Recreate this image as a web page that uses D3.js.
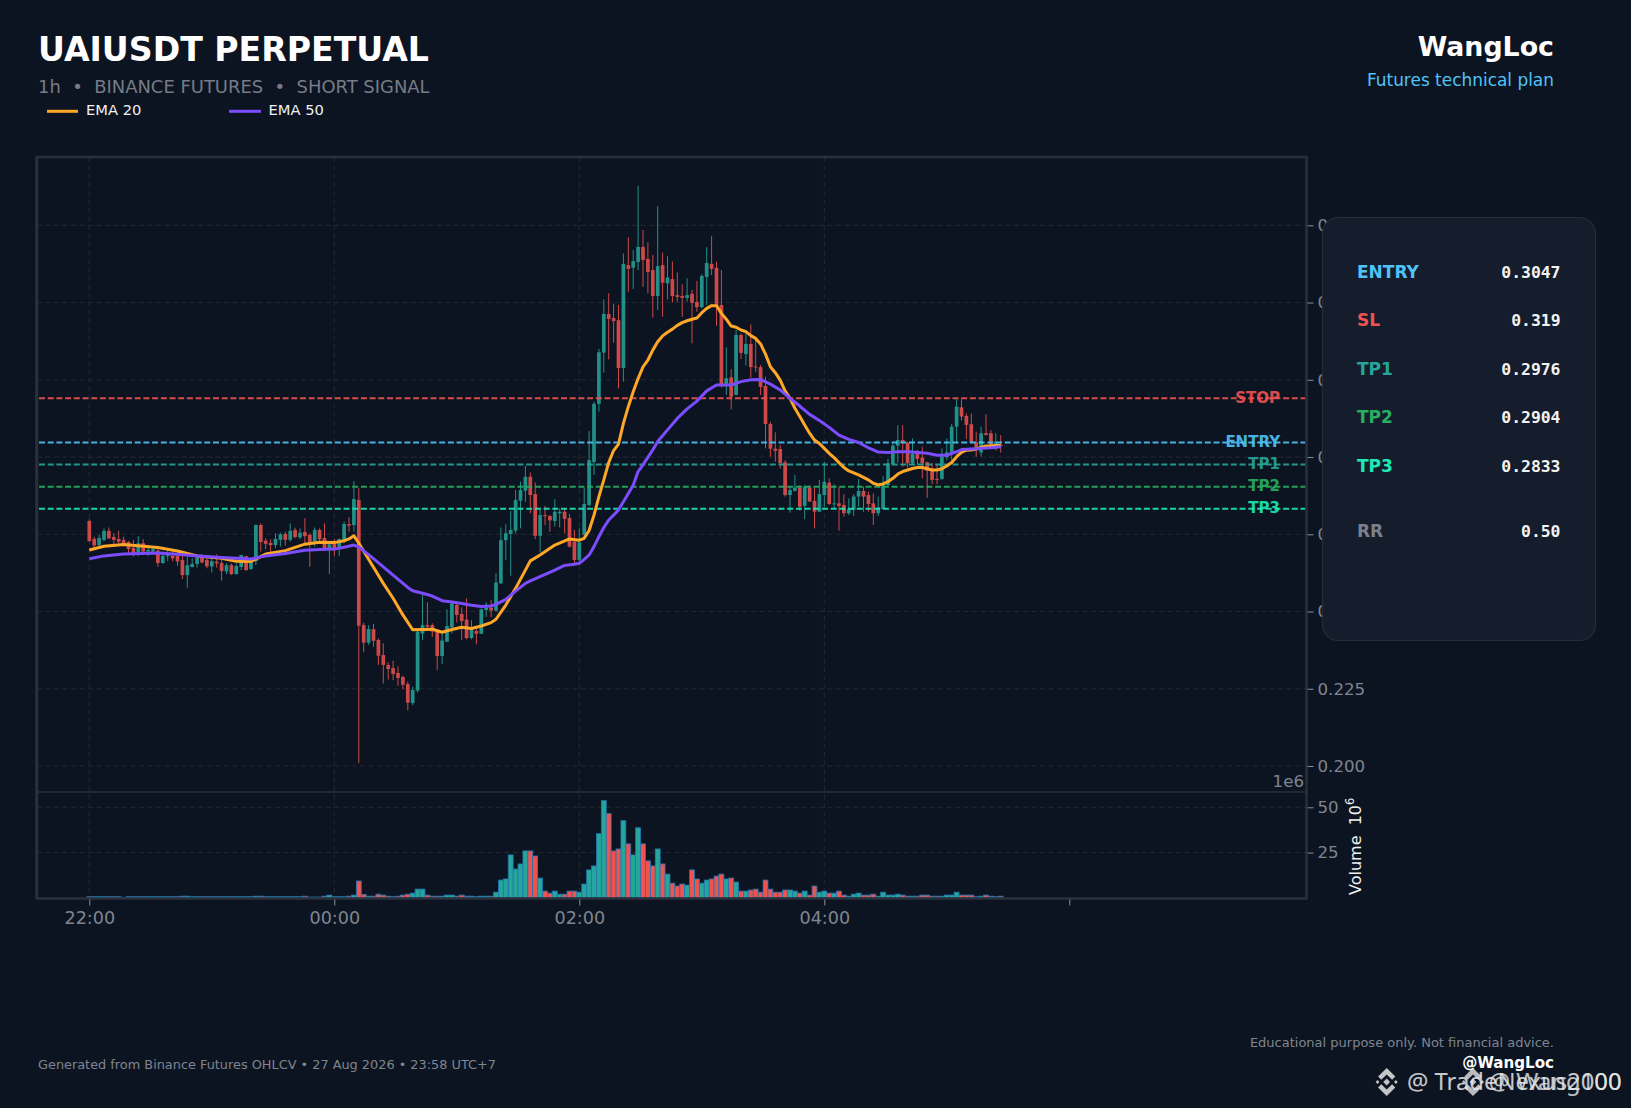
<!DOCTYPE html>
<html>
<head>
<meta charset="utf-8">
<script src="https://cdn.jsdelivr.net/npm/d3@7/dist/d3.min.js"></script>
<style>
html,body{margin:0;padding:0;background:#0d1421;}
svg{display:block;font-family:"DejaVu Sans",sans-serif;}
text{white-space:pre;}
</style>
</head>
<body>
<svg id="c" width="1631" height="1108"></svg>
<script>
const opens=[.2793,.2735,.2715,.2732,.2761,.2741,.2735,.2732,.2725,.2706,
.2683,.2721,.2694,.2694,.2697,.2657,.2679,.2680,.2680,.2667,
.2618,.2644,.2654,.2675,.2667,.2646,.2661,.2657,.2630,.2650,
.2621,.2644,.2679,.2638,.2663,.2780,.2729,.2722,.2715,.2732,
.2751,.2732,.2764,.2740,.2757,.2748,.2726,.2764,.2738,.2705,
.2718,.2705,.2732,.2783,.2780,.2861,.2456,.2399,.2443,.2408,
.2359,.2327,.2317,.2301,.2288,.2265,.2204,.2244,.2429,.2456,
.2456,.2435,.2356,.2402,.2449,.2521,.2492,.2474,.2414,.2437,
.2428,.2505,.2512,.2503,.2591,.2731,.2751,.2762,.2859,.2891,
.2936,.2880,.2745,.2812,.2809,.2793,.2818,.2823,.2803,.2726,
.2667,.2748,.2845,.2984,.3172,.3338,.3463,.3450,.3443,.3288,
.3621,.3613,.3631,.3680,.3641,.3605,.3521,.3621,.3562,.3576,
.3524,.3521,.3515,.3528,.3502,.3485,.3583,.3625,.3612,.3492,
.3230,.3258,.3201,.3395,.3333,.3366,.3293,.3291,.3230,.3107,
.3027,.3026,.2983,.2877,.2891,.2901,.2842,.2902,.2858,.2823,
.2877,.2917,.2848,.2850,.2845,.2818,.2829,.2872,.2890,.2877,
.2850,.2818,.2832,.2909,.2977,.3037,.3055,.3046,.2980,.3012,
.2998,.2983,.2955,.2929,.2929,.2999,.3015,.3098,.3161,.3133,
.3106,.3047,.3015,.3077,.3077,.3036,.3039];
const highs=[.2798,.2742,.2748,.2769,.2772,.2753,.2761,.2742,.2728,.2732,
.2744,.2734,.2710,.2712,.2705,.2694,.2699,.2694,.2694,.2683,
.2678,.2672,.2686,.2686,.2675,.2672,.2685,.2667,.2656,.2656,
.2656,.2683,.2680,.2672,.2782,.2785,.2737,.2734,.2753,.2755,
.2758,.2785,.2771,.2769,.2802,.2753,.2772,.2769,.2785,.2721,
.2735,.2737,.2791,.2805,.2922,.2899,.2464,.2456,.2460,.2413,
.2397,.2335,.2341,.2322,.2292,.2273,.2257,.2440,.2553,.2530,
.2462,.2442,.2429,.2507,.2530,.2530,.2513,.2543,.2472,.2445,
.2510,.2530,.2537,.2624,.2772,.2783,.2825,.2893,.2920,.2971,
.2950,.2918,.2834,.2842,.2812,.2863,.2834,.2834,.2816,.2764,
.2769,.2901,.3084,.3179,.3350,.3510,.3530,.3497,.3492,.3659,
.3711,.3670,.3877,.3735,.3695,.3654,.3812,.3662,.3650,.3633,
.3598,.3559,.3578,.3541,.3570,.3592,.3679,.3715,.3632,.3605,
.3355,.3284,.3411,.3400,.3400,.3429,.3379,.3298,.3260,.3114,
.3080,.3039,.2990,.2904,.2942,.2909,.2909,.2909,.2899,.2926,
.2985,.2931,.2912,.2904,.2880,.2866,.2880,.2929,.2904,.2888,
.2882,.2872,.2938,.2994,.3044,.3103,.3103,.3050,.3060,.3023,
.3034,.2985,.2980,.2974,.3028,.3060,.3107,.3187,.3187,.3141,
.3141,.3082,.3098,.3138,.3087,.3077,.3071];
const lows=[.2726,.2705,.2710,.2726,.2734,.2719,.2721,.2715,.2688,.2678,
.2680,.2683,.2680,.2688,.2645,.2654,.2663,.2663,.2648,.2605,
.2577,.2643,.2642,.2656,.2640,.2626,.2642,.2600,.2621,.2618,
.2620,.2634,.2632,.2634,.2650,.2694,.2702,.2690,.2705,.2710,
.2713,.2726,.2737,.2734,.2721,.2645,.2710,.2726,.2699,.2621,
.2680,.2680,.2721,.2758,.2758,.2009,.2368,.2392,.2386,.2327,
.2267,.2280,.2278,.2260,.2248,.2180,.2197,.2238,.2408,.2445,
.2418,.2311,.2330,.2402,.2429,.2464,.2408,.2410,.2410,.2394,
.2427,.2483,.2481,.2499,.2590,.2667,.2616,.2753,.2769,.2855,
.2818,.2734,.2692,.2780,.2758,.2775,.2772,.2753,.2707,.2656,
.2661,.2740,.2840,.2942,.3147,.3273,.3316,.3370,.3222,.3244,
.3535,.3544,.3605,.3551,.3530,.3451,.3476,.3454,.3510,.3500,
.3503,.3454,.3503,.3368,.3470,.3481,.3492,.3589,.3425,.3225,
.3201,.3154,.3200,.3317,.3296,.3257,.3276,.3201,.3028,.3001,
.2985,.2963,.2872,.2820,.2888,.2826,.2799,.2856,.2769,.2823,
.2839,.2845,.2834,.2762,.2807,.2812,.2809,.2839,.2823,.2823,
.2780,.2809,.2832,.2906,.2974,.2982,.2969,.2966,.2974,.2974,
.2931,.2868,.2912,.2912,.2926,.2990,.2980,.3046,.3118,.3058,
.3044,.3001,.3001,.3071,.3034,.3021,.3014];
const closes=[.2728,.2714,.2738,.2761,.2737,.2732,.2726,.2721,.2702,.2683,
.2721,.2694,.2699,.2702,.2657,.2680,.2683,.2672,.2662,.2618,
.2650,.2654,.2675,.2659,.2646,.2663,.2656,.2631,.2650,.2621,
.2647,.2683,.2634,.2661,.2780,.2725,.2719,.2715,.2735,.2750,
.2732,.2761,.2741,.2755,.2744,.2721,.2764,.2734,.2705,.2718,
.2705,.2734,.2783,.2778,.2864,.2454,.2399,.2443,.2405,.2357,
.2327,.2314,.2298,.2285,.2263,.2205,.2246,.2435,.2456,.2451,
.2435,.2356,.2406,.2453,.2526,.2489,.2469,.2414,.2442,.2428,
.2507,.2512,.2503,.2594,.2731,.2753,.2764,.2861,.2893,.2936,
.2877,.2745,.2812,.2811,.2795,.2823,.2823,.2800,.2710,.2667,
.2724,.2848,.2990,.3172,.3339,.3463,.3447,.3440,.3288,.3625,
.3609,.3634,.3680,.3638,.3599,.3521,.3618,.3564,.3581,.3521,
.3518,.3515,.3524,.3499,.3485,.3586,.3628,.3609,.3492,.3233,
.3255,.3195,.3395,.3337,.3366,.3291,.3290,.3227,.3107,.3027,
.3020,.2980,.2877,.2893,.2901,.2839,.2904,.2856,.2823,.2880,
.2920,.2848,.2850,.2842,.2818,.2831,.2872,.2890,.2872,.2848,
.2818,.2837,.2909,.2980,.3037,.3055,.3046,.2980,.3010,.2994,
.2980,.2955,.2926,.2926,.3001,.3015,.3098,.3163,.3131,.3104,
.3047,.3026,.3077,.3071,.3036,.3050,.3036];
const volumes=[.6,.6,.6,.6,.6,.6,.6,.1,.6,.6,
.6,.6,.6,.6,.6,.6,.6,.6,.6,.9,
.9,.6,.6,.6,.6,.6,.6,.6,.6,.6,
.6,.6,.6,.6,.9,.9,.6,.6,.6,.6,
.6,.6,.6,.6,.9,.4,.4,.4,.9,1.5,
.6,.6,.6,.9,1.5,9.3,1.9,.9,.9,2,
1.5,.9,.6,.9,1.5,2,2.6,4.8,4.8,1.5,
.9,.9,.9,1.5,1.5,.9,1.5,.9,.9,.6,
.9,.9,.9,3.1,9.8,10.4,23.7,15.9,18.7,25.9,
25.9,23.1,10.9,3.7,2.6,3.7,2,2,3.7,3.7,
3.1,7.6,15.4,17.6,35.4,53.7,46.5,25.9,27,42.6,
29.8,23.7,38.7,29.8,20.4,17.6,27,18.7,13.1,8.1,
6.5,7.6,7,15.4,10.4,8.1,9.8,10.4,12,13.1,
10.4,10.9,8.7,3.7,3.7,4.3,4.8,3.1,9.8,4.8,
3.1,3.1,4.3,4.3,3.7,2.6,3.7,1.5,6.5,3.1,
3.7,2.6,2.6,3.7,1.5,.9,2,2.6,1.5,1.5,
2,.9,3.1,1.5,1.5,2,1.5,.9,.9,.9,
1.5,1.5,.9,.9,.9,1.5,1.5,3.1,1.5,1.5,
1.5,.6,.9,1.5,.9,.6,.9];
const ema20Bars=[0,3,7,14,18,22,27,30,33,36,40,44,47,50,52,53,54,55,58,60,62,64,66,68,70,72,74,76,78,80,82,83,85,87,89,90,92,95,98,100,101,102,103,104,105,106,107,108,109,110,111,112,113,114,115,116,117,118,119,120,121,122,123,124,125,126,127,128,129,130,131,132,133,134,135,136,137,138,139,140,141,142,143,144,145,146,147,148,149,150,151,152,153,154,155,156,157,158,159,160,161,162,163,164,165,166,167,168,169,170,171,172,173,174,175,176,177,178,179,180,181,182,183,184,185,186];
const ema20Vals=[.2699,.2711,.2717,.2707,.2696,.2680,.2672,.2663,.2662,.2686,.2697,.2718,.2724,.2723,.2729,.2735,.2745,.2721,.2643,.2591,.2543,.2489,.2441,.2442,.2443,.2433,.2442,.2449,.2445,.2453,.2464,.2475,.2521,.2575,.2634,.2664,.2683,.2715,.2735,.2731,.2737,.2762,.2812,.2872,.2926,.2982,.3021,.3042,.3109,.3163,.3211,.3254,.3292,.3314,.3346,.3373,.3392,.3404,.3414,.3426,.3435,.3441,.3446,.3450,.3467,.3481,.3490,.3490,.3465,.3446,.3424,.3420,.3411,.3406,.3393,.3384,.3366,.3333,.3292,.3273,.3249,.3214,.3190,.3158,.3131,.3104,.3077,.3055,.3044,.3028,.3012,.2998,.2982,.2966,.2955,.2949,.2942,.2934,.2926,.2915,.2910,.2913,.2920,.2931,.2945,.2953,.2958,.2963,.2966,.2966,.2962,.2958,.2958,.2962,.2971,.2982,.3001,.3015,.3022,.3023,.3026,.3031,.3036,.3036,.3037,.3038];
const ema50Bars=[0,3,7,14,18,22,27,33,36,40,44,47,50,52,54,55,58,62,65,66,68,70,72,74,76,78,80,82,83,85,87,89,90,92,95,97,99,100,101,102,103,104,105,106,107,108,109,110,111,112,113,115,116,118,120,122,124,126,128,129,131,133,135,137,139,141,143,145,147,149,151,153,155,157,159,160,161,163,165,167,169,171,173,175,176,177,178,180,182,184,186];
const ema50Vals=[.2671,.2680,.2686,.2689,.2685,.2680,.2675,.2670,.2680,.2688,.2698,.2701,.2702,.2708,.2715,.2709,.2671,.2618,.2578,.2567,.2559,.2550,.2535,.2531,.2526,.2520,.2516,.2518,.2523,.2539,.2566,.2591,.2599,.2613,.2634,.2649,.2653,.2656,.2669,.2683,.2710,.2742,.2772,.2796,.2812,.2829,.2855,.2882,.2909,.2953,.2975,.3023,.3050,.3088,.3125,.3156,.3181,.3214,.3233,.3233,.3233,.3244,.3250,.3251,.3236,.3217,.3190,.3165,.3138,.3118,.3096,.3071,.3057,.3047,.3030,.3023,.3016,.3015,.3017,.3017,.3015,.3012,.3006,.3006,.3012,.3017,.3024,.3026,.3028,.3030,.3033];

const levelNames=["STOP","ENTRY","TP1","TP2","TP3"];
const levelValues=[.319,.3047,.2976,.2904,.2833];
const levelColors=["#ef5350","#4fc3f7","#26a69a","#27ae60","#1de9b6"];
const priceTicks=[.2,.225,.25,.275,.3,.325,.35,.375];
const volumeTicks=[25,50];
const timeTicks=[0,50,100,150,200];
const timeLabels=["22:00","00:00","02:00","04:00",""];
const cardLabels=["ENTRY","SL","TP1","TP2","TP3","RR"];
const cardValues=["0.3047","0.319","0.2976","0.2904","0.2833","0.50"];
const cardColors=["#4fc3f7","#ef5350","#26a69a","#27ae60","#1de9b6","#7a808c"];
const cardBaselines=[277.8,326,374.7,423.3,471.7,536.7];

const BG="#0d1421",FRAME="#2a303b",GRID="#222833",GRAY="#7f8590",UP="#26a69a",DOWN="#ef5350";
const svg=d3.select("#c");
svg.append("rect").attr("width",1631).attr("height",1108).attr("fill",BG);

const L=37,R=1306.5,T=157,PB=792,B=898.5;
const x=d3.scaleLinear().domain([0,50]).range([89.3,334.3]);
const y=d3.scaleLinear().domain([.2,.375]).range([766,225.3]);
const v=d3.scaleLinear().domain([0,50]).range([897.8,807.3]);

// grid
const grid=svg.append("g").attr("stroke",GRID).attr("stroke-width",1).attr("stroke-dasharray","5,3.5").attr("fill","none");
timeTicks.slice(0,4).forEach(t=>grid.append("line").attr("x1",x(t)).attr("x2",x(t)).attr("y1",T).attr("y2",B));
priceTicks.forEach(p=>grid.append("line").attr("x1",L).attr("x2",R).attr("y1",y(p)).attr("y2",y(p)));
volumeTicks.forEach(p=>grid.append("line").attr("x1",L).attr("x2",R).attr("y1",v(p)).attr("y2",v(p)));

// level labels
const lab=svg.append("g").attr("font-weight","bold").attr("font-size",15).attr("text-anchor","end");
levelNames.forEach((n,i)=>lab.append("text").attr("x",1280).attr("y",y(levelValues[i])+4.5).attr("fill",levelColors[i]).attr("opacity",.9).text(n));

// candles
const idx=d3.range(opens.length);
const candles=svg.append("g").attr("opacity",.85);
candles.selectAll("line").data(idx).join("line")
 .attr("x1",i=>x(i)).attr("x2",i=>x(i)).attr("y1",i=>y(highs[i])).attr("y2",i=>y(lows[i]))
 .attr("stroke",i=>closes[i]>=opens[i]?UP:DOWN).attr("stroke-width",1);
candles.selectAll("rect").data(idx).join("rect")
 .attr("x",i=>x(i)-1.85).attr("width",3.7)
 .attr("y",i=>y(Math.max(opens[i],closes[i])))
 .attr("height",i=>Math.max(1,Math.abs(y(opens[i])-y(closes[i]))))
 .attr("fill",i=>closes[i]>=opens[i]?UP:DOWN);

// level lines
levelValues.forEach((p,i)=>svg.append("line").attr("x1",L+2).attr("x2",R-1).attr("y1",y(p)).attr("y2",y(p))
 .attr("stroke",levelColors[i]).attr("stroke-width",2).attr("stroke-dasharray","6,2.7").attr("opacity",.9));

// EMA
const line=d3.line().x(d=>x(d[0])).y(d=>y(d[1]));
svg.append("path").attr("d",line(ema20Bars.map((b,i)=>[b,ema20Vals[i]]))).attr("fill","none").attr("stroke","#ffa726").attr("stroke-width",3).attr("stroke-linejoin","round");
svg.append("path").attr("d",line(ema50Bars.map((b,i)=>[b,ema50Vals[i]]))).attr("fill","none").attr("stroke","#7c4dff").attr("stroke-width",3).attr("stroke-linejoin","round");

// volume
svg.append("g").selectAll("rect").data(idx).join("rect")
 .attr("x",i=>x(i)-2.45).attr("width",4.9)
 .attr("y",i=>v(volumes[i])).attr("height",i=>v(0)-v(volumes[i]))
 .attr("fill",i=>closes[i]>=opens[i]?UP:DOWN)
 .attr("stroke","#1f77b4").attr("stroke-width",.8);

// frame
svg.append("rect").attr("x",L).attr("y",T).attr("width",R-L).attr("height",B-T).attr("fill","none").attr("stroke",FRAME).attr("stroke-width",2.5);
svg.append("line").attr("x1",36).attr("x2",36).attr("y1",T).attr("y2",B).attr("stroke",FRAME).attr("stroke-width",1.5);
svg.append("line").attr("x1",L).attr("x2",R).attr("y1",PB).attr("y2",PB).attr("stroke",FRAME).attr("stroke-width",1.5);

// axes
function styleAxis(g,size){
 g.select(".domain").remove();
 g.selectAll("line").attr("stroke","#8a8f98").attr("stroke-width",1);
 g.selectAll("text").attr("fill",GRAY).attr("font-size",size).attr("font-family",'"DejaVu Sans",sans-serif');
}
svg.append("g").attr("transform",`translate(${R+1},0)`).call(d3.axisRight(y).tickValues(priceTicks).tickFormat(d3.format(".3f")).tickSize(6).tickPadding(4)).call(styleAxis,16.67);
svg.append("g").attr("transform",`translate(${R+1},0)`).call(d3.axisRight(v).tickValues(volumeTicks).tickFormat(d3.format("d")).tickSize(6).tickPadding(4)).call(styleAxis,16.67);
svg.append("g").attr("transform",`translate(0,${B+1})`).call(d3.axisBottom(x).tickValues(timeTicks).tickFormat((d,i)=>timeLabels[i]).tickSize(6).tickPadding(6)).call(styleAxis,17.6);

svg.append("text").attr("x",1304).attr("y",786.5).attr("text-anchor","end").attr("fill",GRAY).attr("font-size",16.67).text("1e6");
const volTitle=svg.append("text").attr("transform","translate(1360.5,895) rotate(-90)").attr("fill","#f0f0f0").attr("font-size",16);
volTitle.append("tspan").text("Volume  10");
volTitle.append("tspan").attr("dy",-7).attr("font-size",11.5).text("6");

// header
svg.append("text").attr("x",38).attr("y",60.5).attr("fill","#fff").attr("font-weight","bold").attr("font-size",33.15).text("UAIUSDT PERPETUAL");
svg.append("text").attr("x",38).attr("y",92.5).attr("fill","#767c87").attr("font-size",17.95).text("1h  •  BINANCE FUTURES  •  SHORT SIGNAL");
svg.append("line").attr("x1",47).attr("x2",78).attr("y1",111.3).attr("y2",111.3).attr("stroke","#ffa726").attr("stroke-width",3);
svg.append("text").attr("x",86).attr("y",115.3).attr("fill","#f0f0f0").attr("font-size",14.7).text("EMA 20");
svg.append("line").attr("x1",229).attr("x2",261).attr("y1",111.3).attr("y2",111.3).attr("stroke","#7c4dff").attr("stroke-width",3);
svg.append("text").attr("x",268.5).attr("y",115.3).attr("fill","#f0f0f0").attr("font-size",14.7).text("EMA 50");
svg.append("text").attr("x",1554).attr("y",56).attr("text-anchor","end").attr("fill","#fff").attr("font-weight","bold").attr("font-size",26.8).text("WangLoc");
svg.append("text").attr("x",1554).attr("y",86).attr("text-anchor","end").attr("fill","#4fc3f7").attr("font-size",16.95).text("Futures technical plan");

// card
svg.append("rect").attr("x",1322.5).attr("y",217.5).attr("width",273).attr("height",423).attr("rx",16).attr("fill","#151c2b").attr("stroke","#262d39").attr("stroke-width",1.2);
cardLabels.forEach((n,i)=>{
 svg.append("text").attr("x",1357).attr("y",cardBaselines[i]).attr("fill",cardColors[i]).attr("font-weight","bold").attr("font-size",17).text(n);
 svg.append("text").attr("x",1560.5).attr("y",cardBaselines[i]).attr("text-anchor","end").attr("fill","#f2f2f2").attr("font-family",'"DejaVu Sans Mono",monospace').attr("font-weight","bold").attr("font-size",16.4).text(cardValues[i]);
});

// footer
svg.append("text").attr("x",38).attr("y",1069).attr("fill",GRAY).attr("font-size",12.87).text("Generated from Binance Futures OHLCV • 27 Aug 2026 • 23:58 UTC+7");
svg.append("text").attr("x",1554).attr("y",1047).attr("text-anchor","end").attr("fill",GRAY).attr("font-size",13).text("Educational purpose only. Not financial advice.");
svg.append("text").attr("x",1554).attr("y",1068).attr("text-anchor","end").attr("fill","#fff").attr("font-weight","bold").attr("font-size",15.1).text("@WangLoc");

// watermark
function logo(cx,cy,s,op){
 const g=svg.append("g").attr("fill","#e4e4e4").attr("opacity",op).attr("transform",`translate(${cx},${cy}) scale(${s})`);
 [[0,0,1],[-1.7,0,.55],[1.7,0,.55]].forEach(d=>g.append("rect").attr("x",-.5).attr("y",-.5).attr("width",1).attr("height",1).attr("transform",`translate(${d[0]},${d[1]}) rotate(45) scale(${d[2]*.9})`));
 g.append("path").attr("d","M0,-2.6 L1.6,-1 L1,-.4 L0,-1.4 L-1,-.4 L-1.6,-1 Z");
 g.append("path").attr("d","M0,2.6 L1.6,1 L1,.4 L0,1.4 L-1,.4 L-1.6,1 Z");
}
logo(1386.7,1082,5.4,.85);
logo(1473,1082,5.4,.8);
svg.append("text").attr("x",1407).attr("y",1090).attr("fill","#e8e8e8").attr("opacity",.85).attr("font-size",23.8).attr("font-family",'"Noto Sans",sans-serif').text("@ TradeNexus2000");
svg.append("text").attr("x",1621.5).attr("y",1090).attr("text-anchor","end").attr("fill","#e8e8e8").attr("opacity",.8).attr("font-size",23.8).attr("font-family",'"Noto Sans",sans-serif').text("@ Wang100");
</script>
</body>
</html>
